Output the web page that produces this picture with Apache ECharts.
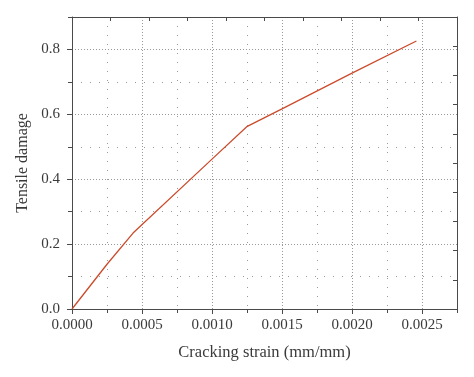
<!DOCTYPE html>
<html>
<head>
<meta charset="utf-8">
<script src="https://cdn.jsdelivr.net/npm/echarts@6/dist/echarts.min.js"></script>
<style>
  html, body { margin: 0; padding: 0; background: #fff; }
  #chart { width: 474px; height: 377px; }
</style>
</head>
<body>
<div id="chart"></div>
<script>
// cracking strain (mm/mm) vs tensile damage
const strain = [0, 0.00025, 0.000436, 0.0010, 0.001252, 0.0015, 0.0020, 0.00246];
const damage = [0, 0.138, 0.234, 0.462, 0.563, 0.617, 0.727, 0.826];

const xMax = 0.00275;
const yMax = 0.9;

const font = 'Liberation Serif';
const axisColor = '#4a4a4a';
const gridColor = '#999';

const chart = echarts.init(document.getElementById('chart'));

const hiddenAxis = {
  axisLabel: { show: false },
  axisLine: { show: false },
};

chart.setOption({
  animation: false,
  grid: { left: 72, top: 17, right: 17, bottom: 68 },
  xAxis: [
    {
      type: 'value',
      min: 0,
      max: xMax,
      interval: 0.0005,
      name: 'Cracking strain (mm/mm)',
      nameLocation: 'middle',
      nameGap: 35,
      nameTextStyle: { fontFamily: font, fontSize: 16.5, color: '#3a3a3a' },
      axisLine: { lineStyle: { color: axisColor } },
      axisTick: { length: 5, lineStyle: { color: axisColor } },
      axisLabel: {
        fontFamily: font, fontSize: 15, color: '#3a3a3a', margin: 9,
        showMaxLabel: false,
        formatter: v => v.toFixed(4)
      },
      splitLine: { lineStyle: { color: gridColor, type: [1, 2] } }
    },
    // minor grid lines and minor ticks
    Object.assign({}, hiddenAxis, {
      type: 'value', min: 0, max: xMax, interval: 0.00025, position: 'bottom',
      axisTick: { show: true, length: 4, lineStyle: { color: axisColor } },
      splitLine: { lineStyle: { color: gridColor, type: [1, 8] } }
    }),
    // top frame
    {
      type: 'value', min: 0, max: 10, interval: 1, position: 'top',
      axisLine: { show: true, onZero: false, lineStyle: { color: axisColor } },
      axisTick: { show: true, inside: true, length: 4, lineStyle: { color: axisColor } },
      axisLabel: { show: false },
      splitLine: { show: false }
    }
  ],
  yAxis: [
    {
      type: 'value',
      min: 0,
      max: yMax,
      interval: 0.2,
      name: 'Tensile damage',
      nameLocation: 'middle',
      nameGap: 40,
      nameTextStyle: { fontFamily: font, fontSize: 16, color: '#3a3a3a' },
      axisLine: { show: true, lineStyle: { color: axisColor } },
      axisTick: { show: true, length: 5, lineStyle: { color: axisColor } },
      axisLabel: {
        fontFamily: font, fontSize: 15, color: '#3a3a3a', margin: 12,
        showMaxLabel: false,
        formatter: v => v.toFixed(1)
      },
      splitLine: { lineStyle: { color: gridColor, type: [1, 2] } }
    },
    Object.assign({}, hiddenAxis, {
      type: 'value', min: 0, max: yMax, interval: 0.1, position: 'left',
      axisTick: { show: true, length: 4, lineStyle: { color: axisColor } },
      splitLine: { lineStyle: { color: gridColor, type: [1, 8] } }
    }),
    // right frame
    {
      type: 'value', min: 0, max: 10, interval: 1, position: 'right',
      axisLine: { show: true, onZero: false, lineStyle: { color: axisColor } },
      axisTick: { show: true, inside: true, length: 4, lineStyle: { color: axisColor } },
      axisLabel: { show: false },
      splitLine: { show: false }
    }
  ],
  series: [
    {
      type: 'line',
      xAxisIndex: 0,
      yAxisIndex: 0,
      data: strain.map((s, i) => [s, damage[i]]),
      showSymbol: false,
      lineStyle: { color: '#cc4b2c', width: 1.3 }
    }
  ]
});
</script>
</body>
</html>
